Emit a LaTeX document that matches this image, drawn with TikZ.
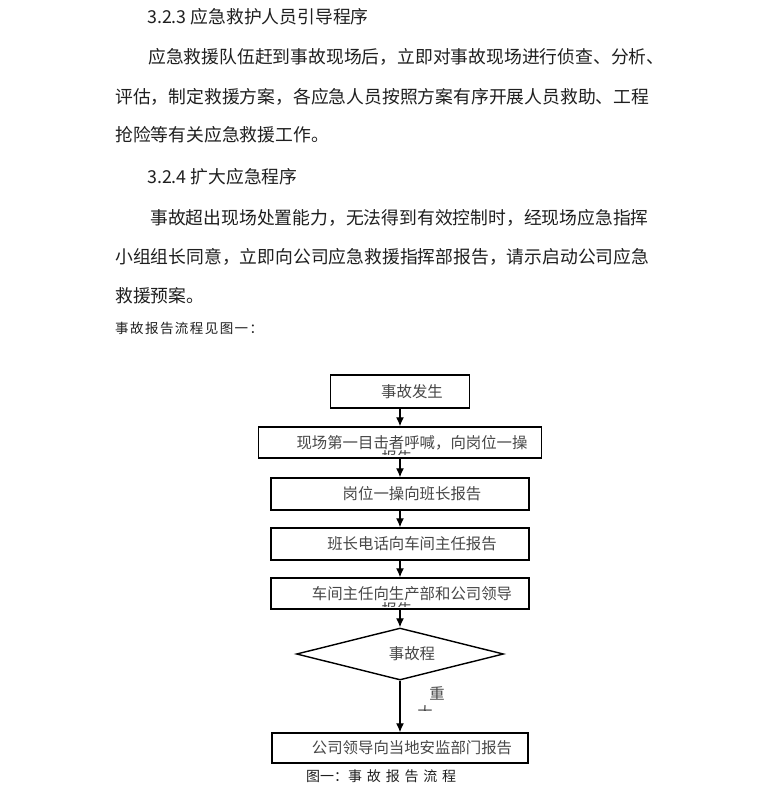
\documentclass[tikz,border=0pt]{standalone}
\usepackage{fontspec}
\setmainfont{Noto Sans CJK SC}
\usetikzlibrary{shapes.geometric,arrows.meta}
\def\spacedstep#1{\ifx\relax#1\else#1\hfil\expandafter\spacedstep\fi}
\newcommand{\spreadto}[2]{\makebox[#1][s]{\spacedstep#2\relax\unskip}}
\tikzset{
	body/.style={anchor=west, inner sep=0pt, text=black!88, font=\fontsize{17.8}{20}\selectfont},
	note/.style={anchor=west, inner sep=0pt, text=black!88, font=\fontsize{13.5}{15}\selectfont},
	flowtext/.style={inner sep=0pt, text=black!72, font=\fontsize{15.4}{17}\selectfont},
	stepbox/.style={flowtext, draw=black, line width=1.4pt, minimum height=31pt},
	judgebox/.style={flowtext, draw=black, line width=1.4pt, diamond, aspect=4},
	flowarrow/.style={black, line width=1.3pt, -{Latex[length=9pt, width=8pt]}}
}
\begin{document}
\begin{tikzpicture}[x=1pt, y=-1pt]
	\pgfmathsetmacro{\cx}{400}
	\pgfmathsetmacro{\ind}{24}
	\useasboundingbox[fill=white] (0, 0) rectangle (760, 794);
	\node[body] (head323) at (147, 17) {3.2.3 应急救护人员引导程序};
	\node[body] (rescue1) at (148, 57) {\spreadto{500pt}{应急救援队伍赶到事故现场后，立即对事故现场进行侦查、分析、}};
	\node[body] (rescue2) at (115, 97) {\spreadto{533pt}{评估，制定救援方案，各应急人员按照方案有序开展人员救助、工程}};
	\node[body] (rescue3) at (115, 135) {抢险等有关应急救援工作。};
	\node[body] (head324) at (147, 177) {3.2.4 扩大应急程序};
	\node[body] (expand1) at (150, 218) {\spreadto{498pt}{事故超出现场处置能力，无法得到有效控制时，经现场应急指挥}};
	\node[body] (expand2) at (115, 257) {\spreadto{533pt}{小组组长同意，立即向公司应急救援指挥部报告，请示启动公司应急}};
	\node[body] (expand3) at (115, 296) {救援预案。};
	\node[note] (seefig) at (115, 328) {\spreadto{148pt}{事故报告流程见图一：}};
	\node[stepbox, minimum width=139pt, minimum height=33pt] (occur) at (\cx, 391.5) {\hspace*{\ind pt}事故发生};
	\node[stepbox, minimum width=283pt] (witness) at (\cx, 442.5) {\hspace*{\ind pt}现场第一目击者呼喊，向岗位一操};
	\node[stepbox, minimum width=258pt, minimum height=32pt] (post) at (\cx, 494) {\hspace*{\ind pt}岗位一操向班长报告};
	\node[stepbox, minimum width=258pt, minimum height=32pt] (monitor) at (\cx, 544) {\hspace*{\ind pt}班长电话向车间主任报告};
	\node[stepbox, minimum width=258pt] (director) at (\cx, 593.5) {\hspace*{\ind pt}车间主任向生产部和公司领导};
	\node[judgebox, minimum width=207pt, minimum height=52pt] (judge) at (\cx, 654) {\hspace*{\ind pt}事故程};
	\node[stepbox, minimum width=256pt, minimum height=30pt] (report) at (\cx, 748) {\hspace*{\ind pt}公司领导向当地安监部门报告};
	\node[flowtext] (major) at (437, 693) {重};
	\begin{scope}
		\clip (378, 448) rectangle (416, 454);
		\node[flowtext] (witnesstail) at (397, 458) {报告};
	\end{scope}
	\begin{scope}
		\clip (378, 600) rectangle (416, 606);
		\node[flowtext] (directortail) at (397, 610) {报告};
	\end{scope}
	\begin{scope}
		\clip (414, 703) rectangle (436, 710);
		\node[flowtext] (majortail) at (425, 713) {大};
	\end{scope}
	\draw[flowarrow] (occur.south) -- (witness.north);
	\draw[flowarrow] (witness.south) -- (post.north);
	\draw[flowarrow] (post.south) -- (monitor.north);
	\draw[flowarrow] (monitor.south) -- (director.north);
	\draw[flowarrow] (director.south) -- (judge.north);
	\draw[flowarrow] (judge.south) -- (report.north);
	\node[note, font=\fontsize{14}{16}\selectfont] (figcap) at (306, 776) {图一：\spreadto{108pt}{事故报告流程}};
\end{tikzpicture}
\end{document}
